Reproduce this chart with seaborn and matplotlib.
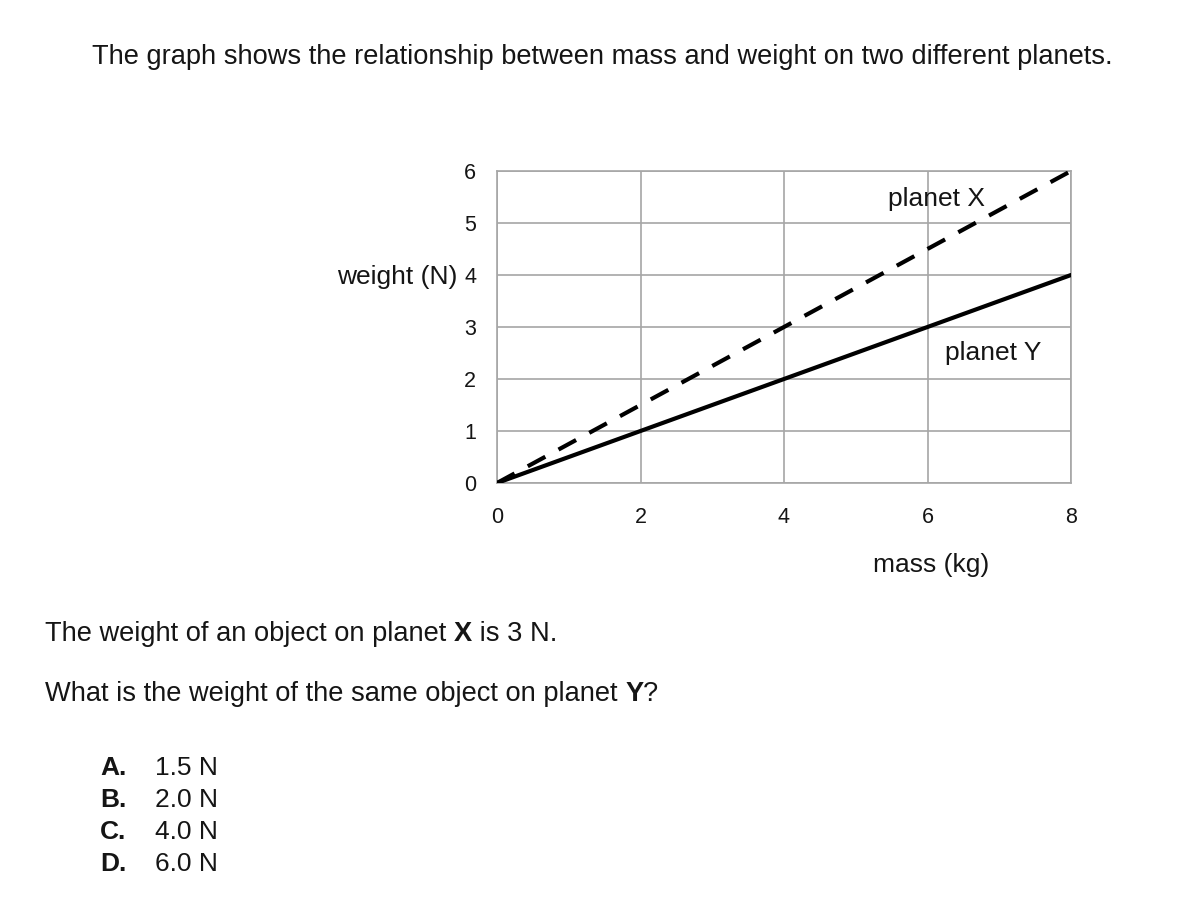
import matplotlib
matplotlib.use("Agg")
import matplotlib.pyplot as plt
import pandas as pd
import seaborn as sns

# values
mass = [0, 2, 4, 6, 8]
weight_x = [0, 1.5, 3, 4.5, 6]
weight_y = [0, 1, 2, 3, 4]
x_ticks = [0, 2, 4, 6, 8]
y_ticks = [0, 1, 2, 3, 4, 5, 6]

title = "The graph shows the relationship between mass and weight on two different planets."
options = ["A.", "B.", "C.", "D."]
answers = ["1.5 N", "2.0 N", "4.0 N", "6.0 N"]

df = pd.DataFrame({
    "mass": mass * 2,
    "weight": weight_x + weight_y,
    "planet": ["X"] * len(mass) + ["Y"] * len(mass),
})

sns.set_style("white")
plt.rcParams["font.family"] = ["Liberation Sans", "DejaVu Sans"]

W, H = 1200, 899
TXT = "#151515"
fig = plt.figure(figsize=(12, 8.99), dpi=100)
fig.patch.set_facecolor("white")

# axes placed in pixel terms
x0, x1, y0, y1 = 497, 1071, 483, 171
ax = fig.add_axes([x0 / W, 1 - y0 / H, (x1 - x0) / W, (y0 - y1) / H])

sns.lineplot(data=df, x="mass", y="weight", hue="planet", style="planet",
             palette={"X": "black", "Y": "black"},
             dashes={"X": (4.8, 3.6), "Y": ""}, linewidth=3.0,
             legend=False, ax=ax, zorder=3)

ax.set_xlim(0, 8)
ax.set_ylim(0, 6)
ax.set_xticks(x_ticks)
ax.set_yticks(y_ticks)
ax.grid(True, color="#a6a6a6", linewidth=1.2)
for s in ax.spines.values():
    s.set_color("#a6a6a6")
    s.set_linewidth(1.2)
ax.tick_params(axis="both", colors="#a6a6a6", length=6, width=1.2,
               labelcolor=TXT, labelsize=15.5)
ax.tick_params(axis="x", pad=11)
ax.tick_params(axis="y", pad=9)
ax.set_xlabel("")
ax.set_ylabel("")

ax.text(6.13, 5.46, "planet X", ha="center", va="center", fontsize=19, color=TXT)
ax.text(6.91, 2.5, "planet Y", ha="center", va="center", fontsize=19, color=TXT)

fig.text(457 / W, 1 - 277 / H, "weight (N)", ha="right", va="center", fontsize=19, color=TXT)
fig.text(931 / W, 1 - 565 / H, "mass (kg)", ha="center", va="center", fontsize=19, color=TXT)

fig.text(602 / W, 1 - 57 / H, title, ha="center", va="center", fontsize=19.6, color=TXT)


def line_of(x, y, parts, size):
    # pieces written one after another, bold where asked
    prev = fig.text(x, y, parts[0][0], ha="left", va="baseline", fontsize=size,
                    fontweight="bold" if parts[0][1] else "normal", color=TXT)
    for txt, bold in parts[1:]:
        prev = ax.annotate(txt, xy=(1, 0), xycoords=prev, ha="left", va="bottom",
                           fontsize=size, fontweight="bold" if bold else "normal",
                           color=TXT, annotation_clip=False)


line_of(45 / W, 1 - 641 / H,
        [("The weight of an object on planet ", False), ("X", True), (" is 3 N.", False)], 19.6)
line_of(45 / W, 1 - 701 / H,
        [("What is the weight of the same object on planet ", False), ("Y", True), ("?", False)], 19.6)

for i, (opt, ans) in enumerate(zip(options, answers)):
    yy = 1 - (775 + 32 * i) / H
    fig.text(100 / W, yy, opt, ha="left", va="baseline", fontsize=19,
             fontweight="bold", color=TXT)
    fig.text(155 / W, yy, ans, ha="left", va="baseline", fontsize=19, color=TXT)

fig.savefig("out.png", dpi=100, facecolor="white")
